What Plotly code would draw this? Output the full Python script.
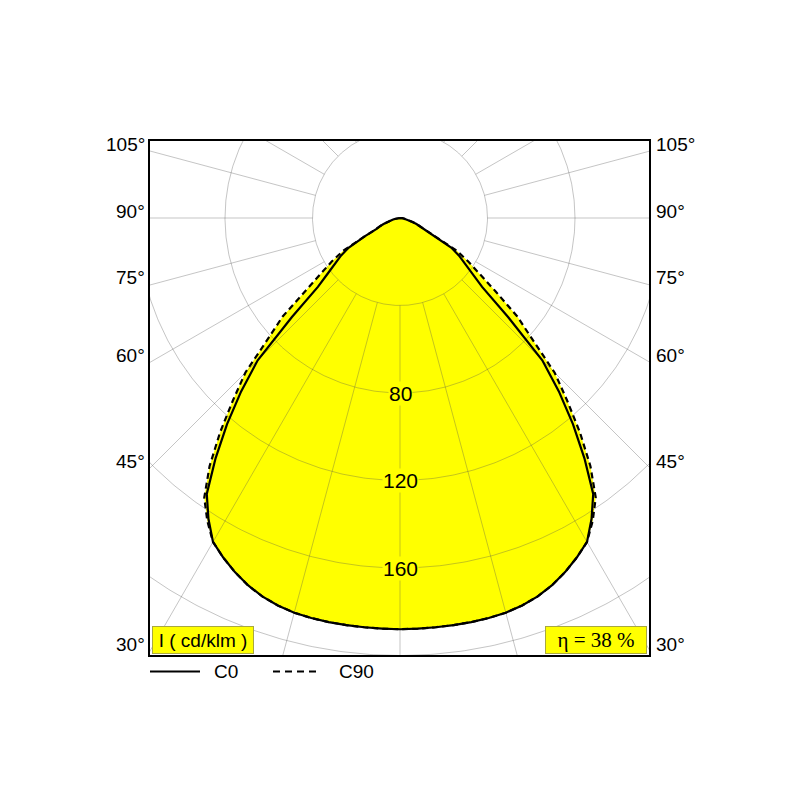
import numpy as np
import plotly.graph_objects as go

# ---------------- data ----------------
GAMMA = [0, 2.5, 5, 7.5, 10, 12.5, 15, 17.5, 20, 22.5, 25, 27.5, 30, 32.5, 35, 37.5,
         40, 42.5, 45, 47.5, 50, 52.5, 55, 57.5, 60, 62.5, 65, 67.5, 70, 72.5, 75,
         77.5, 80, 82.5, 85, 87.5, 90]
I_C0 = [188, 187.9, 187.8, 187.7, 187.6, 187.3, 186.8, 185.7, 184.1, 181.7, 178.6, 175,
        171, 163, 154, 138.5, 123, 107.5, 92, 67, 49, 41.5, 36.5, 32, 27, 18, 12, 10,
        8, 6, 4.5, 3.5, 2.5, 1.7, 1, 0.4, 0]
I_C90 = [188, 187.9, 187.8, 187.7, 187.6, 187.3, 186.8, 185.7, 184.1, 181.7, 178.6, 175,
         171, 164, 156, 143, 128, 113, 100, 82, 70, 55, 44, 37, 30, 18.5, 12, 10,
         8, 6, 4.5, 3.5, 2.5, 1.7, 1, 0.4, 0]
RINGS = [40, 80, 120, 160, 200]
RING_LABELS = [80, 120, 160]
SPOKES = list(range(0, 181, 15))
ANGLE_LABELS = [30, 45, 60, 75, 90, 105]
SERIES = ["C0", "C90"]
UNIT_TEXT = "I ( cd/klm )"
ETA_TEXT = "η = 38 %"

# ---------------- geometry ----------------
W = H = 800
PX0, PX1, PY0, PY1 = 150, 649, 141, 655   # plot frame in pixels
CX, CY = 400, 218                        # pole position in pixels
K = 2.1875                               # pixels per cd/klm
XR = [(PX0 - CX) / K, (PX1 - CX) / K]
YR = [-(PY1 - CY) / K, (CY - PY0) / K]

SANS = "Liberation Sans, Arial, sans-serif"
SERIF = "Liberation Serif, Times New Roman, serif"
YELLOW = "#ffff00"


def curve(vals):
    g = np.radians(np.array(GAMMA, float))
    r = np.array(vals, float)
    ang = np.concatenate([-g[::-1], g[1:]])
    rr = np.concatenate([r[::-1], r[1:]])
    return rr * np.sin(ang), -rr * np.cos(ang)


fig = go.Figure()

x0, y0 = curve(I_C0)
x90, y90 = curve(I_C90)

# fills
for xs, ys in [(x90, y90), (x0, y0)]:
    fig.add_trace(go.Scatter(x=xs, y=ys, mode="lines", fill="toself",
                             fillcolor=YELLOW, line=dict(width=0),
                             hoverinfo="skip", showlegend=False))

# grid circles
t = np.linspace(0, 2 * np.pi, 721)
gx, gy = [], []
for r in RINGS:
    gx += list(r * np.cos(t)) + [None]
    gy += list(r * np.sin(t)) + [None]
# spokes
for a in SPOKES:
    for s in ([1, -1] if a not in (0, 180) else [1]):
        ar = np.radians(a * s)
        gx += [RINGS[0] * np.sin(ar), 300 * np.sin(ar), None]
        gy += [-RINGS[0] * np.cos(ar), -300 * np.cos(ar), None]
fig.add_trace(go.Scatter(x=gx, y=gy, mode="lines",
                         line=dict(color="rgba(80,80,80,0.42)", width=0.8),
                         hoverinfo="skip", showlegend=False))

# curves
fig.add_trace(go.Scatter(x=x0, y=y0, mode="lines", name=SERIES[0],
                         line=dict(color="black", width=2.2), showlegend=False))
fig.add_trace(go.Scatter(x=x90, y=y90, mode="lines", name=SERIES[1],
                         line=dict(color="black", width=2.2, dash="6px,4px"),
                         showlegend=False))

ann = []
# ring labels
for r in RING_LABELS:
    ann.append(dict(x=0, y=-r, xref="x", yref="y", text=str(r), showarrow=False,
                    font=dict(family=SANS, size=21, color="black"),
                    bgcolor=YELLOW, borderpad=0, xanchor="center", yanchor="middle"))
# angle labels
for a in ANGLE_LABELS:
    yv = -(abs(XR[0])) / np.tan(np.radians(a)) if a != 90 else 0.0
    for side in (0, 1):
        ann.append(dict(x=side, xref="paper", y=yv, yref="y", text=f"{a}°",
                        showarrow=False, font=dict(family=SANS, size=19, color="black"),
                        xanchor="right" if side == 0 else "left",
                        xshift=-3 if side == 0 else 5,
                        yanchor="middle", yshift=7))


def pxx(p):
    return (p - PX0) / (PX1 - PX0)


def pxy(p):
    return (PY1 - p) / (PY1 - PY0)


# unit box & efficiency box
ann.append(dict(x=0, xref="paper", y=0, yref="paper", text=UNIT_TEXT, showarrow=False,
                font=dict(family=SANS, size=19, color="black"),
                bgcolor=YELLOW, bordercolor="#a8a840", borderwidth=1, borderpad=1,
                width=98, height=24, xanchor="left", yanchor="bottom",
                xshift=1.5, yshift=1.5))
ann.append(dict(x=1, xref="paper", y=0, yref="paper", text=ETA_TEXT, showarrow=False,
                font=dict(family=SERIF, size=21, color="black"),
                bgcolor=YELLOW, bordercolor="#a8a840", borderwidth=1, borderpad=1,
                width=98, height=24, xanchor="right", yanchor="bottom",
                xshift=-2, yshift=1.5))

# legend (manual)
LEG_Y = 671.5
shapes = [
    dict(type="line", xref="paper", yref="paper", x0=pxx(150), x1=pxx(200),
         y0=pxy(LEG_Y), y1=pxy(LEG_Y), line=dict(color="black", width=2)),
    dict(type="line", xref="paper", yref="paper", x0=pxx(273), x1=pxx(317),
         y0=pxy(LEG_Y), y1=pxy(LEG_Y), line=dict(color="black", width=2, dash="7px,5px")),
]
ann.append(dict(x=pxx(212), xref="paper", y=pxy(LEG_Y), yref="paper", text=SERIES[0],
                showarrow=False, font=dict(family=SANS, size=19, color="black"),
                xanchor="left", yanchor="middle"))
ann.append(dict(x=pxx(337), xref="paper", y=pxy(LEG_Y), yref="paper", text=SERIES[1],
                showarrow=False, font=dict(family=SANS, size=19, color="black"),
                xanchor="left", yanchor="middle"))

axis = dict(showgrid=False, zeroline=False, showticklabels=False, ticks="",
            showline=True, mirror=True, linecolor="black", linewidth=2, fixedrange=True)
fig.update_layout(
    width=W, height=H,
    margin=dict(l=PX0, r=W - PX1, t=PY0, b=H - PY1, pad=0),
    paper_bgcolor="white", plot_bgcolor="white",
    xaxis=dict(range=XR, **axis),
    yaxis=dict(range=YR, **axis),
    showlegend=False,
    annotations=ann, shapes=shapes,
)

fig.write_html("out.html", config={"displayModeBar": False},
               post_script="document.body.style.margin='0';")
